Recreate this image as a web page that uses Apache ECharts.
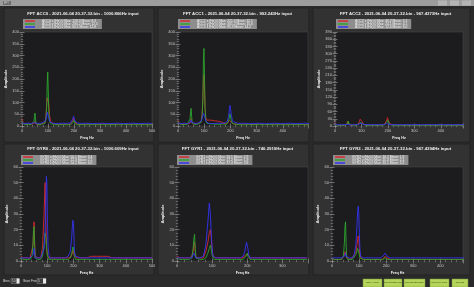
<!DOCTYPE html>
<html><head><meta charset="utf-8">
<script src="https://cdn.jsdelivr.net/npm/echarts@6/dist/echarts.min.js"></script>
<style>html,body{margin:0;padding:0;background:#2b2b2b;overflow:hidden}#c{width:474px;height:287px}</style>
</head><body><div id="c"></div><script>
// ---- data ----
const FREQ = [0,4,8,15,25,35,42,46,48,50,52,54,58,65,75,82,88,92,95,97,99,101,103,106,110,116,125,140,155,170,180,188,193,196,198,200,202,204,208,215,230,250,270,290,310,330,350,370,390,410,430,450,470,485,500];
const FREQ_GYR1 = [0,4,8,15,25,35,42,46,48,50,52,54,58,65,75,82,88,92,95,97,99,101,103,106,110,116,125,140,155,170,180,188,193,196,198,200,202,204,208,215,230,250,270,290,310,330,350,370];

const ACC0_X = [30,12,8,6,9,7,6,10,15,20,14,8,6,7,9,10,14,40,90,120,128,125,95,45,18,10,8,7,6,8,7,9,14,25,35,40,30,15,9,7,6,8,7,6,9,7,6,8,7,6,8,7,6,7,6];
const ACC0_Y = [20,10,6,5,7,6,8,20,40,55,30,10,6,5,7,8,12,30,80,180,230,150,60,20,10,7,6,5,6,5,6,7,10,15,22,25,18,10,6,5,6,5,6,5,6,5,6,5,6,5,6,5,6,5,5];
const ACC0_Z = [15,12,10,11,12,10,11,14,18,22,15,12,10,11,12,14,20,30,45,58,60,50,35,20,14,12,11,10,12,11,12,14,20,32,42,46,35,20,14,12,11,12,10,11,12,10,11,12,10,11,12,10,11,12,10];

const ACC1_X = [25,12,8,7,8,9,8,12,20,30,18,10,8,9,10,12,18,50,120,200,220,170,80,35,25,28,25,22,20,15,10,12,18,24,28,30,24,15,10,8,7,8,7,6,8,7,6,8,7,6,7,6,7,6,6];
const ACC1_Y = [20,10,6,5,6,7,10,30,60,75,40,12,7,6,8,10,15,40,120,280,330,220,80,25,12,10,9,8,7,8,7,10,18,35,52,60,45,20,10,7,6,5,6,5,6,5,6,5,6,5,6,5,6,5,5];
const ACC1_Z = [15,12,10,11,12,10,12,15,20,25,16,12,10,11,12,14,20,32,45,55,60,50,35,20,14,12,11,10,12,11,14,20,40,70,88,95,80,45,20,13,11,12,10,11,12,10,11,12,10,11,12,10,11,12,10];

const ACC2_X = [15,6,4,3,4,3,4,10,20,28,15,5,4,3,4,5,8,18,28,32,35,30,18,8,5,4,3,4,3,4,5,8,15,25,35,40,32,18,8,5,4,3,4,3,4,3,4,3,4,3,4,3,4,3,3];
const ACC2_Y = [10,5,3,3,3,3,4,8,15,20,10,4,3,3,3,4,6,10,15,18,20,16,10,5,3,3,3,3,3,3,4,6,10,15,20,24,18,10,5,3,3,3,3,3,3,3,3,3,3,3,3,3,3,3,3];
const ACC2_Z = [8,6,5,6,5,6,5,6,8,10,7,6,5,6,5,6,7,9,11,12,12,11,9,7,6,5,6,5,6,5,6,7,8,10,11,12,10,8,6,5,6,5,6,5,6,5,6,5,6,5,6,5,6,5,5];

const GYR0_X = [3,2,2,2,2,2,3,10,20,25,12,3,2,2,2,8,30,50,25,10,6,4,3,2,2,2,2,2,2,2,2,2,3,5,7,8,6,3,2,2,2,2,3,3,3,3,2,2,2,2,2,2,2,2,2];
const GYR0_Y = [2,2,1,1,1,1,3,12,20,22,10,2,1,1,1,3,10,18,15,10,6,3,2,1,1,1,1,1,1,1,1,2,4,7,9,10,7,3,1,1,1,1,1,1,1,1,1,1,1,1,1,1,1,1,1];
const GYR0_Z = [2,2,2,2,2,2,2,4,6,8,5,2,2,2,2,3,8,20,40,54,48,25,10,4,2,2,2,2,2,2,3,6,14,22,26,24,16,6,3,2,2,2,2,2,2,2,2,2,2,2,2,2,2,2,2];

const GYR1_X = [3,2,2,2,2,2,3,6,10,12,6,2,2,2,2,6,12,18,20,16,10,5,3,2,2,2,2,2,2,2,2,2,3,4,5,5,4,3,2,2,2,2,2,2,2,2,2,2];
const GYR1_Y = [2,1,1,1,1,1,2,8,14,17,8,2,1,1,1,2,5,8,10,8,5,3,2,1,1,1,1,1,1,1,1,1,2,3,4,5,3,2,1,1,1,1,1,1,1,1,1,1];
const GYR1_Z = [2,2,2,2,2,2,2,3,5,6,4,2,2,2,3,10,25,37,30,20,12,6,3,2,2,2,2,2,2,2,2,3,6,10,12,11,8,4,2,2,2,2,2,2,2,2,2,2];

const GYR2_X = [2,2,1,1,1,1,2,4,6,7,4,2,1,1,2,3,6,10,14,16,14,8,4,2,1,1,1,1,1,1,1,1,2,3,4,4,3,2,1,1,1,1,1,1,1,1,1,1,1,1,1,1,1,1,1];
const GYR2_Y = [2,1,1,1,1,1,3,12,22,25,12,3,1,1,1,2,4,6,8,9,7,4,2,1,1,1,1,1,1,1,1,1,2,2,3,3,2,1,1,1,1,1,1,1,1,1,1,1,1,1,1,1,1,1,1];
const GYR2_Z = [2,2,2,2,2,2,2,3,4,5,3,2,2,2,2,4,10,22,32,35,30,18,8,3,2,2,2,2,2,2,2,3,4,5,6,6,5,3,2,2,2,2,2,2,2,2,2,2,2,2,2,2,2,2,2];

const TITLES = [
  'FFT ACC0 - 2021-06-04 20-37-32.bin - 1000.866Hz input',
  'FFT ACC1 - 2021-06-04 20-37-32.bin - 992.243Hz input',
  'FFT ACC2 - 2021-06-04 20-37-32.bin - 967.4373Hz input',
  'FFT GYR0 - 2021-06-04 20-37-32.bin - 1000.609Hz input',
  'FFT GYR1 - 2021-06-04 20-37-32.bin - 746.2919Hz input',
  'FFT GYR2 - 2021-06-04 20-37-32.bin - 967.4394Hz input'
];
const LEGENDS = [
  ['ACC0 x (Hz) 0 Max: 128.3 Mean: 8.3','ACC0 y (Hz) 0 Max: 230.2 Mean: 12.5','ACC0 z (Hz) 0 Max: 60.1 Mean: 12.8'],
  ['ACC1 x (Hz) 0 Max: 221.4 Mean: 12.1','ACC1 y (Hz) 0 Max: 331.2 Mean: 15.6','ACC1 z (Hz) 0 Max: 95.3 Mean: 14.2'],
  ['ACC2 x (Hz) 0 Max: 40.2 Mean: 5.2','ACC2 y (Hz) 0 Max: 24.1 Mean: 4.1','ACC2 z (Hz) 0 Max: 12.4 Mean: 6.0'],
  ['GYR0 x (Hz) 0 Max: 50.1 Mean: 3.4','GYR0 y (Hz) 0 Max: 22.3 Mean: 2.1','GYR0 z (Hz) 0 Max: 54.2 Mean: 4.0'],
  ['GYR1 x (Hz) 0 Max: 20.1 Mean: 2.9','GYR1 y (Hz) 0 Max: 17.2 Mean: 1.9','GYR1 z (Hz) 0 Max: 37.4 Mean: 3.8'],
  ['GYR2 x (Hz) 0 Max: 16.2 Mean: 1.9','GYR2 y (Hz) 0 Max: 25.3 Mean: 2.1','GYR2 z (Hz) 0 Max: 35.1 Mean: 3.2']
];
const X_MAX = [500, 496, 484, 500, 373, 484];
const Y_MAX = [400, 400, 390, 60, 60, 60];
const Y_INT = [50, 50, 30, 10, 10, 10];
const X_TICKS = [100, 100, 100, 100, 100, 100];

const PANEL_FREQ = [FREQ, FREQ, FREQ, FREQ, FREQ_GYR1, FREQ];
const PANEL_AMPS = [
  [ACC0_X, ACC0_Y, ACC0_Z], [ACC1_X, ACC1_Y, ACC1_Z], [ACC2_X, ACC2_Y, ACC2_Z],
  [GYR0_X, GYR0_Y, GYR0_Z], [GYR1_X, GYR1_Y, GYR1_Z], [GYR2_X, GYR2_Y, GYR2_Z]
];

// ---- layout ----
const FONT = 'Liberation Sans';
const COLORS = ['#d42a2e', '#2ea62e', '#3333f2'];
const GRIDS = [
  {left: 22, right: 322, top: 32, bottom: 161},
  {left: 178, right: 166, top: 32, bottom: 161},
  {left: 335, right: 11, top: 32, bottom: 161},
  {left: 21, right: 322, top: 167, bottom: 26},
  {left: 177, right: 166, top: 167, bottom: 26},
  {left: 332, right: 11, top: 167, bottom: 26}
];
const FRAMES = [
  [4, 8, 150, 134], [158, 8, 151, 134], [313, 8, 157, 134],
  [4, 144, 150, 131], [158, 144, 151, 131], [313, 144, 157, 131]
];
const LEG_POS = [[23, 19], [178, 19], [336, 19], [21, 155], [177, 155], [333, 155]];

const chart = echarts.init(document.getElementById('c'), null, {renderer: 'canvas'});
const grid = [], xAxis = [], yAxis = [], series = [], legend = [], title = [];
const labelColor = '#c4c4c4';
const tick = {show: true, inside: true, length: 2.5, lineStyle: {color: '#bbbbbb', width: 0.5}};
const minor = {show: true, splitNumber: 5, length: 1.2, lineStyle: {color: '#9a9a9a', width: 0.5}};
for (let p = 0; p < 6; p++) {
  const g = GRIDS[p];
  grid.push(Object.assign({show: true, backgroundColor: '#1c1c1f', borderColor: '#4a4a4a', borderWidth: 0.5}, g));
  title.push({
    text: TITLES[p], left: FRAMES[p][0] + FRAMES[p][2] / 2 + 4, top: (p < 3 ? 11.8 : 146.8), textAlign: 'center',
    padding: 0,
    textStyle: {color: '#f0f0f0', fontSize: 4.3, fontWeight: 'bold', fontFamily: FONT}
  });
  const showMax = X_MAX[p] % X_TICKS[p] === 0;
  xAxis.push({
    type: 'value', gridIndex: p, min: 0, max: X_MAX[p], interval: X_TICKS[p],
    name: 'Freq Hz', nameLocation: 'middle', nameGap: 9.5,
    nameTextStyle: {color: '#f0f0f0', fontSize: 3.7, fontWeight: 'bold', fontFamily: FONT},
    axisLine: {show: false}, axisTick: tick, minorTick: minor,
    axisLabel: {color: labelColor, fontSize: 4, margin: 3, showMaxLabel: showMax, fontFamily: FONT},
    splitLine: {show: false}
  });
  xAxis.push({
    type: 'value', gridIndex: p, min: 0, max: X_MAX[p], interval: X_TICKS[p], position: 'top',
    axisLine: {show: false}, axisLabel: {show: false}, splitLine: {show: false},
    axisTick: tick, minorTick: minor
  });
  yAxis.push({
    type: 'value', gridIndex: p, min: 0, max: Y_MAX[p], interval: Y_INT[p],
    name: 'Amplitude', nameLocation: 'middle', nameGap: 12.5, nameRotate: 90,
    nameTextStyle: {color: '#f0f0f0', fontSize: 3.8, fontWeight: 'bold', fontFamily: FONT},
    axisLine: {show: false}, axisTick: tick, minorTick: minor,
    axisLabel: {color: labelColor, fontSize: 4, margin: 3, fontFamily: FONT},
    splitLine: {show: false}
  });
  yAxis.push({
    type: 'value', gridIndex: p, min: 0, max: Y_MAX[p], interval: Y_INT[p], position: 'right',
    axisLine: {show: false}, axisLabel: {show: false}, splitLine: {show: false},
    axisTick: tick, minorTick: minor
  });
  const freq = PANEL_FREQ[p];
  for (let s = 0; s < 3; s++) {
    const amps = PANEL_AMPS[p][s];
    series.push({
      type: 'line', name: LEGENDS[p][s], xAxisIndex: 2 * p, yAxisIndex: 2 * p,
      data: freq.map((f, i) => [f, amps[i]]), symbol: 'none', silent: true, animation: false,
      lineStyle: {color: COLORS[s], width: 1, opacity: 0.9}, itemStyle: {color: COLORS[s]}, z: 2 + s
    });
  }
  legend.push({
    data: LEGENDS[p], left: LEG_POS[p][0], top: LEG_POS[p][1], orient: 'vertical',
    itemGap: 0, itemWidth: 10, itemHeight: 1.5, icon: 'rect', padding: [0.5, 4, 0.5, 2],
    backgroundColor: '#8e8e8e', selectedMode: false,
    textStyle: {color: '#f4f4f4', fontSize: 3.3, fontFamily: FONT, padding: [0, 0, 0, 2]}
  });
}

// frames, top bar, bottom controls
const graphic = [];
graphic.push({type: 'rect', shape: {x: 0, y: 0, width: 474, height: 6}, style: {fill: '#9c9c9c'}, z: -100});
graphic.push({type: 'rect', shape: {x: 3, y: 1, width: 8, height: 4}, style: {fill: '#6e6e6e'}, z: -99});
graphic.push({type: 'text', x: 4, y: 1.6, style: {text: 'FFT', fill: '#dddddd', fontSize: 2.6, fontFamily: FONT}, z: -98});
[438, 450, 462].forEach(x => {
  graphic.push({type: 'rect', shape: {x: x, y: 0.5, width: 9, height: 5}, style: {fill: '#b4b4b4'}, z: -99});
});
FRAMES.forEach(f => {
  graphic.push({type: 'rect', shape: {x: f[0], y: f[1], width: f[2], height: f[3]},
    style: {fill: '#323233', stroke: '#232323', lineWidth: 1}, z: -100});
});
// bottom strip
graphic.push({type: 'text', x: 3, y: 279.5, style: {text: 'Bins', fill: '#dcdcdc', fontSize: 3.4, fontFamily: FONT}});
graphic.push({type: 'rect', shape: {x: 11, y: 278.5, width: 8, height: 5}, style: {fill: '#3c3c3c', stroke: '#8a8a8a', lineWidth: 0.5}});
graphic.push({type: 'rect', shape: {x: 16.5, y: 278.5, width: 3, height: 5}, style: {fill: '#e8e8e8'}});
graphic.push({type: 'text', x: 12, y: 279.5, style: {text: '10', fill: '#dcdcdc', fontSize: 3.2, fontFamily: FONT}});
graphic.push({type: 'text', x: 23, y: 279.5, style: {text: 'Start Freq', fill: '#dcdcdc', fontSize: 3.4, fontFamily: FONT}});
graphic.push({type: 'rect', shape: {x: 37, y: 278.5, width: 9, height: 5}, style: {fill: '#3c3c3c', stroke: '#8a8a8a', lineWidth: 0.5}});
graphic.push({type: 'rect', shape: {x: 43, y: 278.5, width: 3, height: 5}, style: {fill: '#e8e8e8'}});
graphic.push({type: 'text', x: 38, y: 279.5, style: {text: '5', fill: '#dcdcdc', fontSize: 3.2, fontFamily: FONT}});
const BUTTONS = [[363, 19, 'Save All Img'], [384, 18, 'Run all tests (FFT)'], [404, 21, 'Run all tests (PSD)'], [430, 19, 'Run Freq. Resp.'], [452, 16, 'Run Sim']];
BUTTONS.forEach(b => {
  graphic.push({type: 'rect', shape: {x: b[0], y: 279, width: b[1], height: 8}, style: {fill: '#b4d45a', stroke: '#7f9a3a', lineWidth: 0.5}});
  graphic.push({type: 'text', x: b[0] + b[1] / 2, y: 282, style: {text: b[2], fill: '#2a3a10', fontSize: 2.2, align: 'center', verticalAlign: 'middle', fontFamily: FONT}});
});

chart.setOption({
  backgroundColor: '#2a2a2b',
  animation: false,
  title, grid, xAxis, yAxis, series, legend, graphic
});
</script></body></html>
